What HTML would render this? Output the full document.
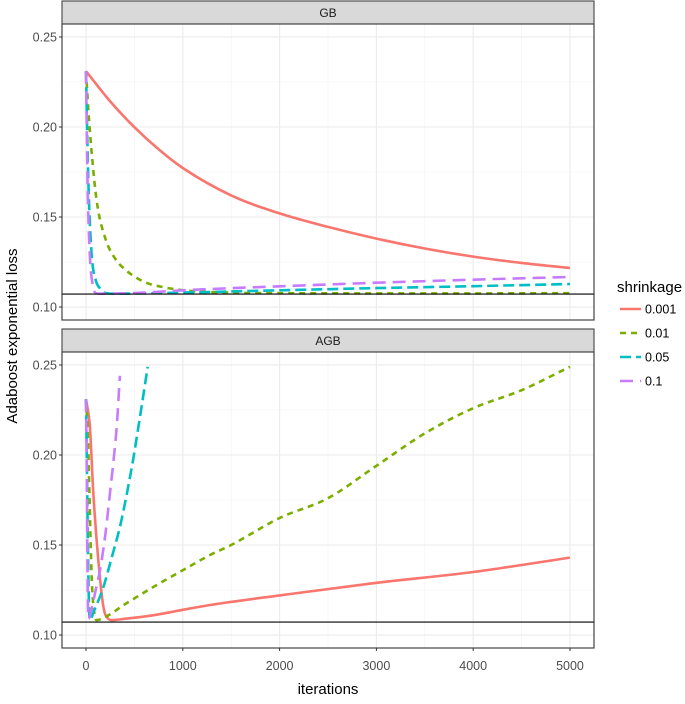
<!DOCTYPE html>
<html><head><meta charset="utf-8">
<style>
body{margin:0;background:#fff;}
svg text{font-family:"Liberation Sans",Arial,sans-serif;}
</style></head>
<body>
<svg id="chart" width="685" height="699" xmlns="http://www.w3.org/2000/svg"></svg>
<script>
// ---- data ----
const xTicks = [0, 1000, 2000, 3000, 4000, 5000];
const yTicks = [0.10, 0.15, 0.20, 0.25];
const shrinkLabels = ["0.001", "0.01", "0.05", "0.1"];
const panelNames = ["GB", "AGB"];
const refLoss = 0.1072;

const gb001Iter = [0, 250, 500, 750, 1000, 1500, 2000, 2500, 3000, 3500, 4000, 4500, 5000];
const gb001Loss = [0.231, 0.2142, 0.1999, 0.1876, 0.1772, 0.162, 0.152, 0.1445, 0.138, 0.1325, 0.128, 0.1245, 0.1217];
const gb01Iter = [0, 30, 60, 110, 200, 300, 400, 600, 800, 1070, 1500, 2000, 3000, 4000, 5000];
const gb01Loss = [0.231, 0.205, 0.185, 0.159, 0.138, 0.127, 0.121, 0.114, 0.111, 0.109, 0.108, 0.1077, 0.1076, 0.1076, 0.1077];
const gb05Iter = [0, 15, 30, 60, 100, 150, 200, 300, 500, 1000, 2000, 3000, 4000, 5000];
const gb05Loss = [0.231, 0.19, 0.16, 0.128, 0.115, 0.110, 0.1078, 0.1074, 0.1075, 0.108, 0.1093, 0.1105, 0.1116, 0.1128];
const gb1Iter = [0, 10, 20, 40, 70, 100, 150, 300, 600, 1000, 2000, 3000, 4000, 5000];
const gb1Loss = [0.231, 0.19, 0.16, 0.128, 0.112, 0.1078, 0.1074, 0.1075, 0.108, 0.1093, 0.1115, 0.1135, 0.1152, 0.1167];

const agb001Iter = [0, 40, 75, 127, 180, 230, 265, 400, 700, 1000, 1280, 2000, 3000, 4000, 5000];
const agb001Loss = [0.231, 0.2156, 0.179, 0.1417, 0.1156, 0.109, 0.1083, 0.109, 0.111, 0.114, 0.1167, 0.122, 0.129, 0.135, 0.143];
const agb01Iter = [0, 20, 35, 60, 90, 110, 200, 400, 695, 1000, 1280, 1500, 2000, 2500, 3000, 3500, 4000, 4500, 5000];
const agb01Loss = [0.231, 0.21, 0.179, 0.13, 0.111, 0.1083, 0.110, 0.117, 0.1267, 0.136, 0.1444, 0.150, 0.165, 0.176, 0.194, 0.212, 0.226, 0.236, 0.249];
const agb05Iter = [0, 10, 20, 30, 40, 80, 180, 260, 350, 420, 485, 560, 637];
const agb05Loss = [0.231, 0.19, 0.15, 0.118, 0.1083, 0.113, 0.1267, 0.142, 0.16, 0.178, 0.197, 0.222, 0.249];
const agb1Iter = [0, 8, 15, 25, 60, 100, 145, 200, 248, 290, 317, 350];
const agb1Loss = [0.231, 0.19, 0.14, 0.109, 0.115, 0.125, 0.136, 0.156, 0.179, 0.2, 0.2156, 0.244];

// ---- layout ----
const NS = "http://www.w3.org/2000/svg";
const svg = document.getElementById("chart");
const L = 62, R = 594;
const panels = [{stripTop: 1, top: 24, bottom: 320}, {stripTop: 329, top: 352, bottom: 648}];
const X_MIN = -248, X_MAX = 5248, Y_MIN = 0.0928, Y_MAX = 0.2572;
function xs(v){ return L + (v - X_MIN) / (X_MAX - X_MIN) * (R - L); }
function ys(v, p){ return p.bottom - (v - Y_MIN) / (Y_MAX - Y_MIN) * (p.bottom - p.top); }
function el(tag, attrs, parent){
  const e = document.createElementNS(NS, tag);
  for (const k in attrs) e.setAttribute(k, attrs[k]);
  (parent || svg).appendChild(e);
  return e;
}
function smoothPath(px, py){
  const n = px.length;
  const d = [], m = [];
  for (let i = 0; i < n - 1; i++) d.push((py[i+1] - py[i]) / (px[i+1] - px[i]));
  m[0] = d[0]; m[n-1] = d[n-2];
  for (let i = 1; i < n - 1; i++) m[i] = (d[i-1] * d[i] <= 0) ? 0 : (d[i-1] + d[i]) / 2;
  for (let i = 0; i < n - 1; i++) {
    if (d[i] === 0) { m[i] = 0; m[i+1] = 0; continue; }
    const a = m[i] / d[i], b = m[i+1] / d[i], s = a*a + b*b;
    if (s > 9) { const t = 3 / Math.sqrt(s); m[i] = t*a*d[i]; m[i+1] = t*b*d[i]; }
  }
  let s = "M" + px[0].toFixed(1) + "," + py[0].toFixed(1);
  for (let i = 0; i < n - 1; i++) {
    const h = (px[i+1] - px[i]) / 3;
    s += " C" + (px[i] + h).toFixed(2) + "," + (py[i] + m[i]*h).toFixed(2) + " " +
         (px[i+1] - h).toFixed(2) + "," + (py[i+1] - m[i+1]*h).toFixed(2) + " " +
         px[i+1].toFixed(1) + "," + py[i+1].toFixed(1);
  }
  return s;
}
const colors = ["#F8766D", "#7CAE00", "#00BFC4", "#C77CFF"];
const dashes = ["", "6 5", "11 5", "13 7"];
const series = [
  [[gb001Iter, gb001Loss], [gb01Iter, gb01Loss], [gb05Iter, gb05Loss], [gb1Iter, gb1Loss]],
  [[agb001Iter, agb001Loss], [agb01Iter, agb01Loss], [agb05Iter, agb05Loss], [agb1Iter, agb1Loss]]
];

panels.forEach((p, pi) => {
  const g = el("g", {});
  
  
  const st = el("rect", {x: L, y: p.stripTop, width: R - L, height: p.top - p.stripTop, fill: "#D9D9D9", stroke: "#333", "stroke-width": 1}, g);
  
  
  const stt = el("text", {x: (L + R) / 2, y: (p.stripTop + p.top) / 2 + 4.5, "text-anchor": "middle", "font-size": 12, fill: "#1A1A1A"}, g);
  stt.textContent = panelNames[pi];
  
  
  for (let v = 0.125; v < 0.26; v += 0.05) el("line", {x1: L, x2: R, y1: ys(v, p), y2: ys(v, p), stroke: "#F2F2F2", "stroke-width": 0.6}, g);
  for (let v = 500; v < 5000; v += 1000) el("line", {x1: xs(v), x2: xs(v), y1: p.top, y2: p.bottom, stroke: "#F2F2F2", "stroke-width": 0.6}, g);
  yTicks.forEach(v => {
    el("line", {x1: L, x2: R, y1: ys(v, p), y2: ys(v, p), stroke: "#EBEBEB", "stroke-width": 1.1}, g);
    el("line", {x1: L - 3, x2: L, y1: ys(v, p), y2: ys(v, p), stroke: "#333", "stroke-width": 1}, g);
    const t = el("text", {x: L - 5, y: ys(v, p) + 4.5, "text-anchor": "end", "font-size": 12.5, fill: "#4D4D4D"}, g);
    t.textContent = v.toFixed(2);
    
    
  });
  xTicks.forEach(v => {
    el("line", {x1: xs(v), x2: xs(v), y1: p.top, y2: p.bottom, stroke: "#EBEBEB", "stroke-width": 1.1}, g);
  });
  series[pi].forEach((s, si) => {
    const d = smoothPath(s[0].map(xs), s[1].map(v => ys(v, p)));
    const pl = el("path", {d: d, fill: "none", stroke: colors[si], "stroke-width": 2.6, "stroke-dasharray": dashes[si], "stroke-linejoin": "round"}, g);
    
    
  });
  const hl = el("line", {x1: L, x2: R, y1: ys(refLoss, p), y2: ys(refLoss, p), stroke: "#000", "stroke-width": 1.2}, g);
  
  
  el("rect", {x: L, y: p.top, width: R - L, height: p.bottom - p.top, fill: "none", stroke: "#333", "stroke-width": 1.1}, g);
});
xTicks.forEach(v => {
  el("line", {x1: xs(v), x2: xs(v), y1: 648, y2: 651, stroke: "#333", "stroke-width": 1});
  const t = el("text", {x: xs(v), y: 670, "text-anchor": "middle", "font-size": 12.5, fill: "#4D4D4D"});
  t.textContent = v;
  
  
});
const xt = el("text", {x: (L + R) / 2, y: 694, "text-anchor": "middle", "font-size": 15, fill: "#000"});
xt.textContent = "iterations";


const yt = el("text", {x: 0, y: 0, "text-anchor": "middle", "font-size": 15, fill: "#000", transform: "translate(17,336) rotate(-90)"});
yt.textContent = "Adaboost exponential loss";


const lg = el("g", {});


const lt = el("text", {x: 617, y: 292, "font-size": 15, fill: "#000"}, lg);
lt.textContent = "shrinkage";
shrinkLabels.forEach((lab, i) => {
  const y = 309 + i * 24;
  const ln = el("line", {x1: 620, x2: 641, y1: y, y2: y, stroke: colors[i], "stroke-width": 2.6, "stroke-dasharray": dashes[i]}, lg);
  
  
  const t = el("text", {x: 645, y: y + 4.5, "font-size": 12.5, fill: "#000"}, lg);
  t.textContent = lab;
  
  
});
</script>
</body></html>
